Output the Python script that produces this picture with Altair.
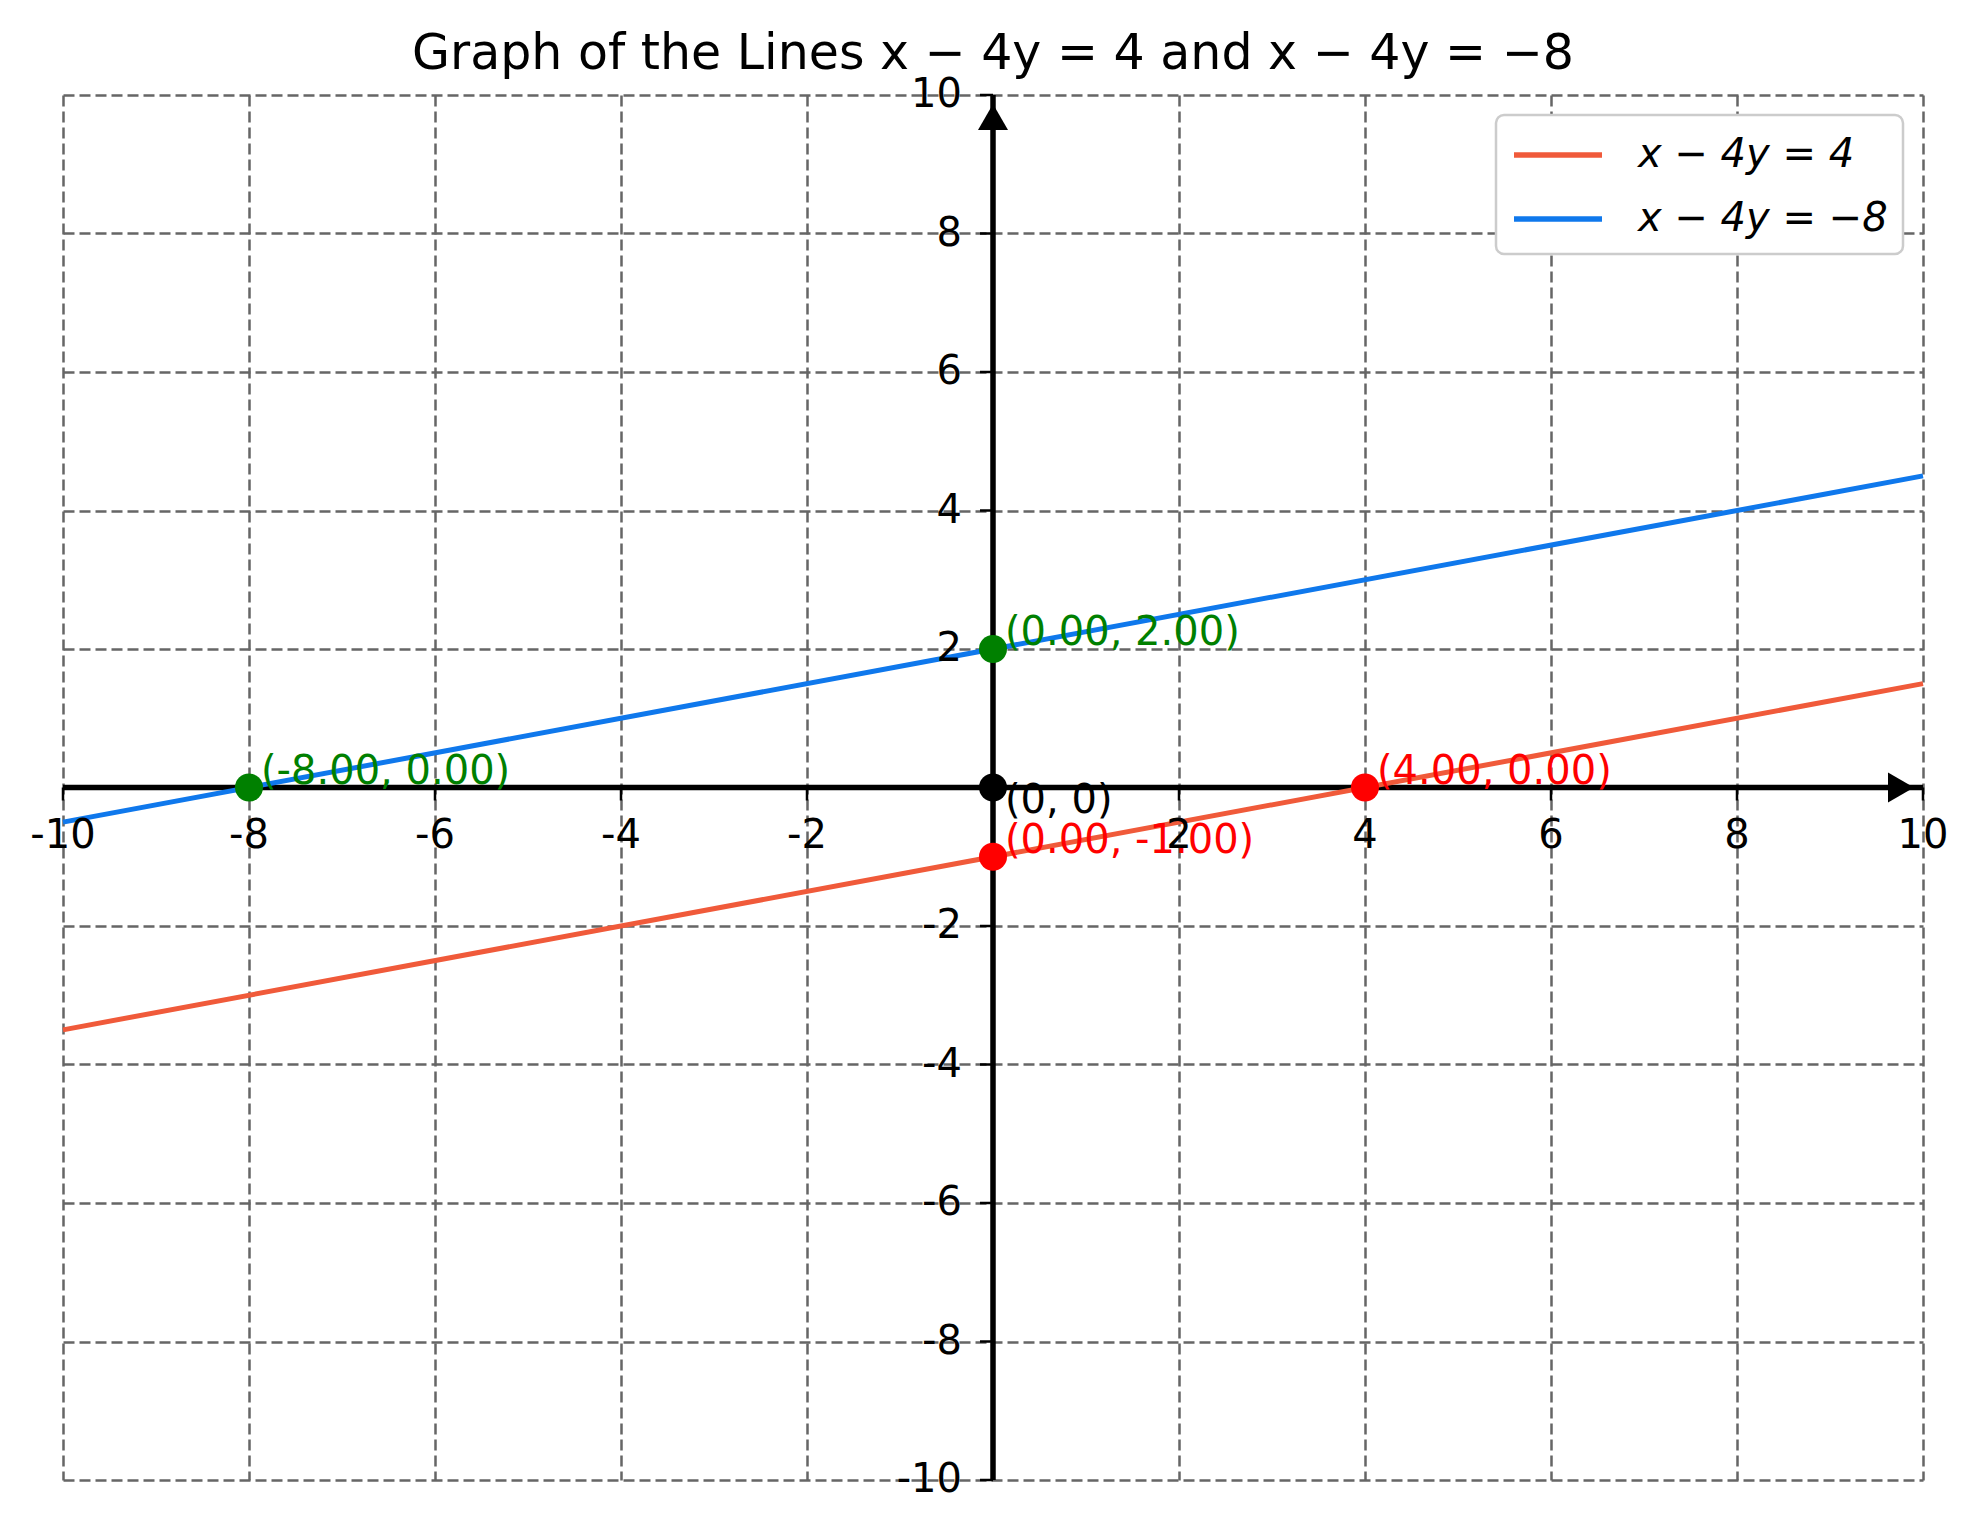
import altair as alt
import pandas as pd

# ---------------- data ----------------
tick_values = [-10, -8, -6, -4, -2, 2, 4, 6, 8, 10]
tick_labels = ["-10", "-8", "-6", "-4", "-2", "2", "4", "6", "8", "10"]
grid_values = [-10, -8, -6, -4, -2, 0, 2, 4, 6, 8, 10]

line_names = ["x − 4y = 4", "x − 4y = −8"]
line_x = [-10, 10]
red_line_y = [-3.5, 1.5]
blue_line_y = [-0.5, 4.5]
line_colors = ["#F05A3A", "#0F78EC"]

pt_x = [0, -8, 4, 0]
pt_y = [2, 0, 0, -1]
pt_labels = ["(0.00, 2.00)", "(-8.00, 0.00)", "(4.00, 0.00)", "(0.00, -1.00)"]
pt_colors = ["green", "green", "red", "red"]

origin_x = [0]
origin_y = [0]
origin_label = ["(0, 0)"]

axis_min, axis_max = -10, 10

FONT = "DejaVu Sans"
W, H = 1860, 1385

xs = alt.Scale(domain=[axis_min, axis_max], nice=False, zero=False)
ys = alt.Scale(domain=[axis_min, axis_max], nice=False, zero=False)

# ---------------- grid ----------------
grid_df = pd.DataFrame({"v": grid_values})
grid_axis = dict(grid=True, gridDash=[11, 5], gridColor="#666666", gridWidth=2.5,
                 gridOpacity=1, labels=False, ticks=False, domain=False, title=None,
                 values=grid_values)
grid = alt.Chart(grid_df).mark_point(opacity=0).encode(
    x=alt.X("v:Q", scale=xs, axis=alt.Axis(**grid_axis)),
    y=alt.Y("v:Q", scale=ys, axis=alt.Axis(**grid_axis)),
)

# ---------------- axis lines ----------------
xaxis_df = pd.DataFrame({"x": [axis_min], "x2": [axis_max], "y": [0]})
yaxis_df = pd.DataFrame({"y": [axis_min], "y2": [axis_max], "x": [0]})
xline = alt.Chart(xaxis_df).mark_rule(color="black", strokeWidth=5.5).encode(
    x=alt.X("x:Q", scale=xs), x2="x2:Q", y=alt.Y("y:Q", scale=ys))
yline = alt.Chart(yaxis_df).mark_rule(color="black", strokeWidth=5.5).encode(
    y=alt.Y("y:Q", scale=ys), y2="y2:Q", x=alt.X("x:Q", scale=xs))

# arrowheads
arr_r = alt.Chart(pd.DataFrame({"x": [axis_max], "y": [0]})).mark_point(
    shape="triangle-right", filled=True, color="black", opacity=1, size=900, xOffset=-22
).encode(x=alt.X("x:Q", scale=xs), y=alt.Y("y:Q", scale=ys))
arr_u = alt.Chart(pd.DataFrame({"x": [0], "y": [axis_max]})).mark_point(
    shape="triangle-up", filled=True, color="black", opacity=1, size=900, yOffset=22
).encode(x=alt.X("x:Q", scale=xs), y=alt.Y("y:Q", scale=ys))

# tick marks
tick_df = pd.DataFrame({"v": tick_values, "zero": [0] * len(tick_values), "lab": tick_labels})
xticks = alt.Chart(tick_df).mark_point(
    shape="M0,0L0,1", filled=False, color="black", strokeWidth=2.5, size=676, opacity=1
).encode(x=alt.X("v:Q", scale=xs), y=alt.Y("zero:Q", scale=ys))
yticks = alt.Chart(tick_df).mark_point(
    shape="M0,0L-1,0", filled=False, color="black", strokeWidth=2.5, size=676, opacity=1
).encode(y=alt.Y("v:Q", scale=ys), x=alt.X("zero:Q", scale=xs))

# tick labels
xlabels = alt.Chart(tick_df).mark_text(
    font=FONT, fontSize=40, color="black", align="center", baseline="middle", dy=48
).encode(x=alt.X("v:Q", scale=xs), y=alt.Y("zero:Q", scale=ys), text="lab:N")
ylabels = alt.Chart(tick_df).mark_text(
    font=FONT, fontSize=40, color="black", align="right", baseline="middle", dx=-31
).encode(y=alt.Y("v:Q", scale=ys), x=alt.X("zero:Q", scale=xs), text="lab:N")

# ---------------- lines ----------------
rows = []
for name, ys_vals in zip(line_names, [red_line_y, blue_line_y]):
    for xv, yv in zip(line_x, ys_vals):
        rows.append({"eq": name, "x": xv, "y": yv})
lines_df = pd.DataFrame(rows)
lines = alt.Chart(lines_df).mark_line(strokeWidth=5).encode(
    x=alt.X("x:Q", scale=xs),
    y=alt.Y("y:Q", scale=ys),
    color=alt.Color(
        "eq:N",
        scale=alt.Scale(domain=line_names, range=line_colors),
        legend=alt.Legend(
            title=None, orient="none", legendX=1433, legendY=20,
            symbolType="M-1,0L3,0", symbolSize=1936, symbolStrokeWidth=5.5,
            labelFont=FONT, labelFontSize=40, labelFontStyle="italic",
            labelColor="black", labelOffset=77, rowPadding=19,
            padding=15, strokeColor="#cccccc", fillColor="white",
            cornerRadius=8, labelLimit=400,
        ),
    ),
    detail="eq:N",
)

# ---------------- points ----------------
pts_df = pd.DataFrame({"x": pt_x, "y": pt_y, "lab": pt_labels, "c": pt_colors})
pts = alt.Chart(pts_df).mark_point(filled=True, size=784, opacity=1, shape="circle").encode(
    x=alt.X("x:Q", scale=xs), y=alt.Y("y:Q", scale=ys),
    color=alt.Color("c:N", scale=None, legend=None))
pt_text = alt.Chart(pts_df).mark_text(
    font=FONT, fontSize=40, align="left", baseline="middle", dx=12, dy=-16
).encode(x=alt.X("x:Q", scale=xs), y=alt.Y("y:Q", scale=ys),
         text="lab:N", color=alt.Color("c:N", scale=None, legend=None))

org_df = pd.DataFrame({"x": origin_x, "y": origin_y, "lab": origin_label})
org_pt = alt.Chart(org_df).mark_point(filled=True, size=784, opacity=1, color="black", shape="circle").encode(
    x=alt.X("x:Q", scale=xs), y=alt.Y("y:Q", scale=ys))
org_text = alt.Chart(org_df).mark_text(
    font=FONT, fontSize=40, align="left", baseline="middle", dx=12, dy=13, color="black"
).encode(x=alt.X("x:Q", scale=xs), y=alt.Y("y:Q", scale=ys), text="lab:N")

chart = alt.layer(
    grid, xline, yline, arr_r, arr_u, xticks, yticks,
    lines, pts, org_pt, pt_text, org_text, xlabels, ylabels,
).properties(
    width=W, height=H,
    title=alt.TitleParams(
        "Graph of the Lines x − 4y = 4 and x − 4y = −8",
        font=FONT, fontSize=49, fontWeight="normal", color="black",
        anchor="middle", frame="group", offset=-4,
    ),
    autosize=alt.AutoSizeParams(type="none"),
    padding={"left": 63, "top": 95, "right": 57, "bottom": 56},
    background="white",
).configure_view(stroke=None).configure_legend(strokeWidth=2.5)

chart.save("out.html", embed_options={"renderer": "svg", "actions": False})
